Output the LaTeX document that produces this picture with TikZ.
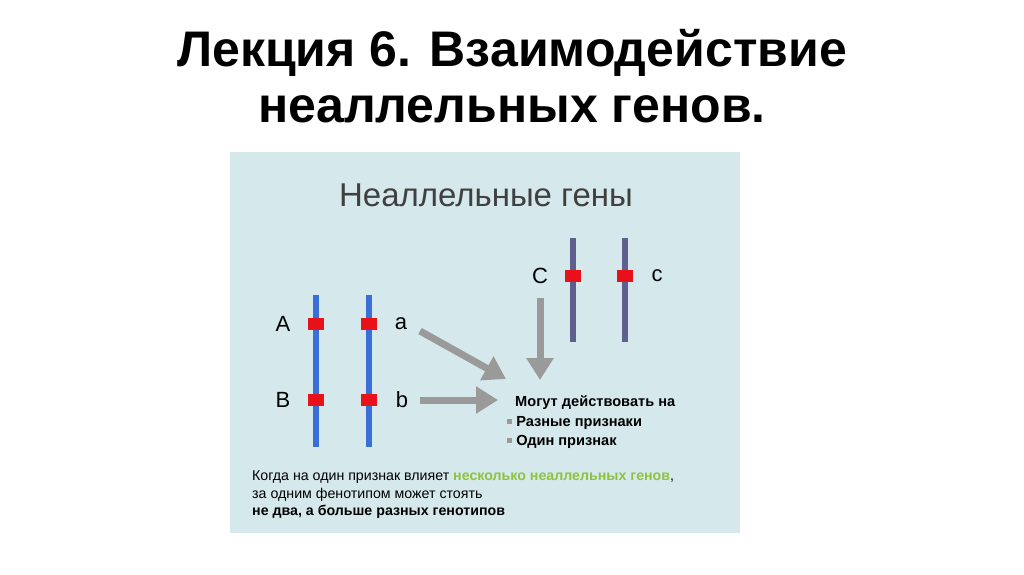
\documentclass[tikz,border=0pt]{standalone}
\usepackage{fontspec}
\setmainfont{Liberation Sans}
\usetikzlibrary{arrows.meta}
\definecolor{panel}{HTML}{D5E8EB}
\definecolor{chromblue}{HTML}{3A6FD8}
\definecolor{chromgray}{HTML}{5E5F8E}
\definecolor{genered}{HTML}{E8111A}
\definecolor{arrowgray}{HTML}{9A9A9A}
\definecolor{greentext}{HTML}{8CC43C}
\begin{document}
\begin{tikzpicture}[x=1pt,y=-1pt,
  chrom/.style={line width=6pt},
  gene/.style={fill=genered, minimum width=16pt, minimum height=12pt, inner sep=0pt},
  allele/.style={font=\fontsize{22}{22}\selectfont},
  flow/.style={arrowgray, line width=7pt, -{Triangle[length=22pt,width=26pt]}},
  note/.style={font=\fontsize{14.2}{17.5}\selectfont, anchor=west, inner sep=0pt},
  bullet/.style={note, font=\bfseries\fontsize{14.6}{17}\selectfont}]
\useasboundingbox[fill=white] (0,0) rectangle (1024,574);
\fill[panel] (230,152) rectangle (740,533);
\node[font=\bfseries\fontsize{50}{56}\selectfont, align=center] (title) at (512,76)
  {Лекция 6. Взаимодействие\\неаллельных генов.};
\node[font=\fontsize{33}{33}\selectfont, text=black!75] (sub) at (486,195) {Неаллельные гены};
% left pair
\draw[chrom, chromblue] (316,295) -- (316,447);
\draw[chrom, chromblue] (369,295) -- (369,447);
\node[gene] (gA) at (316,324) {};
\node[gene] (ga) at (369,324) {};
\node[gene] (gB) at (316,400) {};
\node[gene] (gb) at (369,400) {};
\node[allele] (A) at (283,324) {A};
\node[allele] (a) at (401,324) {a};
\node[allele] (B) at (283,400) {B};
\node[allele] (b) at (402,400) {b};
% right pair
\draw[chrom, chromgray] (573,238) -- (573,342);
\draw[chrom, chromgray] (625,238) -- (625,342);
\node[gene] (gC) at (573,276) {};
\node[gene] (gc) at (625,276) {};
\node[allele] (C) at (540,276) {C};
\node[allele] (c) at (657,276) {c};
% arrows
\coordinate (t1) at (506,379);
\coordinate (t2) at (498,400);
\coordinate (t3) at (540,380);
\draw[flow] (420,331) -- (t1);
\draw[flow] (420,400) -- (t2);
\draw[flow] (540,298) -- (t3);
% notes
\node[bullet] (may) at (515,403) {Могут действовать на};
\node[bullet] (diff) at (507,423)
  {\textcolor{arrowgray}{\raisebox{2.5pt}{\rule{5pt}{5pt}}} Разные признаки};
\node[bullet] (one) at (507,442)
  {\textcolor{arrowgray}{\raisebox{2.5pt}{\rule{5pt}{5pt}}} Один признак};
\node[note, anchor=north west, align=left] (text) at (252,471)
  {Когда на один признак влияет \textcolor{greentext}{\bfseries несколько неаллельных генов},\\
   за одним фенотипом может стоять\\
   \bfseries не два, а больше разных генотипов};
\end{tikzpicture}
\end{document}
